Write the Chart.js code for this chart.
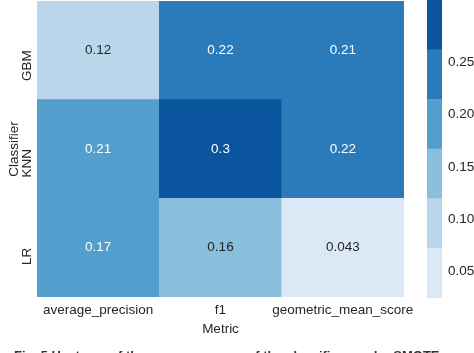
<!DOCTYPE html>
<html>
<head>
<meta charset="utf-8">
<script src="https://cdn.jsdelivr.net/npm/chart.js"></script>
<style>
  html, body { margin: 0; padding: 0; background: #fff; overflow: hidden; }
  #wrap { position: relative; width: 474px; height: 353px; overflow: hidden; }
  #heat { position: absolute; left: 0; top: 0; }
  #cbar { position: absolute; left: 420px; top: 0; }
  #caption { position: absolute; left: 14px; top: 348px; font: bold 13px "Liberation Sans", Arial, sans-serif; color: #333; white-space: nowrap; }
</style>
</head>
<body>
<div id="wrap">
  <canvas id="heat" width="474" height="353"></canvas>
  <canvas id="cbar" width="54" height="353"></canvas>
  <div id="caption">Fig. 5 Heatmap of the average scores of the classifiers under SMOTE</div>
</div>
<script>
const metrics = ['average_precision', 'f1', 'geometric_mean_score'];
const classifiers = ['GBM', 'KNN', 'LR'];
const gbmValues = [0.117, 0.22, 0.2148];
const knnValues = [0.21, 0.30, 0.22];
const lrValues = [0.17, 0.16, 0.043];
const cbarTicks = [0.05, 0.10, 0.15, 0.20, 0.25];

const palette = ['#dbe9f6', '#bad6eb', '#89bedc', '#539ecd', '#2b7bba', '#0b559f'];
const vmin = 0.025, vmax = 0.309;
const font = { family: '"Liberation Sans", Arial, sans-serif', size: 13.5 };
const textDark = '#262626';

function colorFor(v) {
  let i = Math.floor((v - vmin) / (vmax - vmin) * palette.length);
  return palette[Math.max(0, Math.min(palette.length - 1, i))];
}
function labelFor(v) {
  return String(+v.toPrecision(2));
}

// rows from bottom to top
const rows = [lrValues, knnValues, gbmValues];

const cellText = {
  id: 'cellText',
  afterDatasetsDraw(chart) {
    const ctx = chart.ctx;
    ctx.save();
    ctx.font = font.size + 'px ' + font.family;
    ctx.textAlign = 'center';
    ctx.textBaseline = 'middle';
    chart.data.datasets.forEach((ds, i) => {
      chart.getDatasetMeta(i).data.forEach((el, j) => {
        const v = rows[i][j];
        const idx = palette.indexOf(colorFor(v));
        ctx.fillStyle = idx <= 2 ? textDark : '#ffffff';
        ctx.fillText(labelFor(v), el.x, (el.y + el.base) / 2);
      });
    });
    ctx.restore();
  }
};

function noPad(scale) {
  scale.paddingTop = 0;
  scale.paddingBottom = 0;
}

new Chart(document.getElementById('heat'), {
  type: 'bar',
  data: {
    labels: metrics,
    datasets: rows.map((vals, r) => ({
      data: vals.map(() => [r, r + 1]),
      backgroundColor: vals.map(colorFor),
      borderWidth: 0,
      barPercentage: 1,
      categoryPercentage: 1,
      grouped: false
    }))
  },
  options: {
    responsive: false,
    animation: false,
    layout: { padding: { top: 1, right: 70, left: 6, bottom: 16 } },
    plugins: { legend: { display: false }, tooltip: { enabled: false } },
    scales: {
      x: {
        grid: { display: false, drawTicks: false },
        border: { display: false },
        ticks: { color: textDark, font: font, padding: 5, maxRotation: 0, autoSkip: false },
        title: { display: true, text: 'Metric', color: textDark, font: font, padding: { top: 0, bottom: 0 } },
        afterFit(scale) { scale.height = 40; }
      },
      y: {
        min: 0, max: 3,
        grid: { display: false, drawTicks: false },
        border: { display: false },
        afterBuildTicks(scale) { scale.ticks = [0.5, 1.5, 2.5].map(v => ({ value: v })); },
        ticks: {
          color: textDark, font: font, padding: 10, minRotation: 90, maxRotation: 90,
          callback: v => classifiers[2 - Math.floor(v)]
        },
        title: { display: true, text: 'Classifier', color: textDark, font: font, padding: 0 },
        afterFit(scale) { scale.width = 31; noPad(scale); }
      }
    }
  },
  plugins: [cellText]
});

// colorbar
const bands = palette.map((c, i) => [
  vmin + (vmax - vmin) * i / palette.length,
  vmin + (vmax - vmin) * (i + 1) / palette.length
]);

new Chart(document.getElementById('cbar'), {
  type: 'bar',
  data: {
    labels: [''],
    datasets: bands.map((b, i) => ({
      data: [b],
      backgroundColor: palette[i],
      borderWidth: 0,
      barPercentage: 1,
      categoryPercentage: 1,
      grouped: false
    }))
  },
  options: {
    responsive: false,
    animation: false,
    layout: { padding: { top: 0, left: 7, right: 0, bottom: 55 } },
    plugins: { legend: { display: false }, tooltip: { enabled: false } },
    scales: {
      x: { display: false },
      y: {
        position: 'right',
        min: vmin, max: vmax,
        grid: { display: false, drawOnChartArea: false, drawTicks: true, tickLength: 3, color: textDark },
        border: { display: false },
        afterBuildTicks(scale) { scale.ticks = cbarTicks.map(v => ({ value: v })); },
        ticks: { color: textDark, font: font, padding: 3, callback: v => v.toFixed(3) },
        afterFit(scale) { scale.width = 32; noPad(scale); }
      }
    }
  }
});
</script>
</body>
</html>
